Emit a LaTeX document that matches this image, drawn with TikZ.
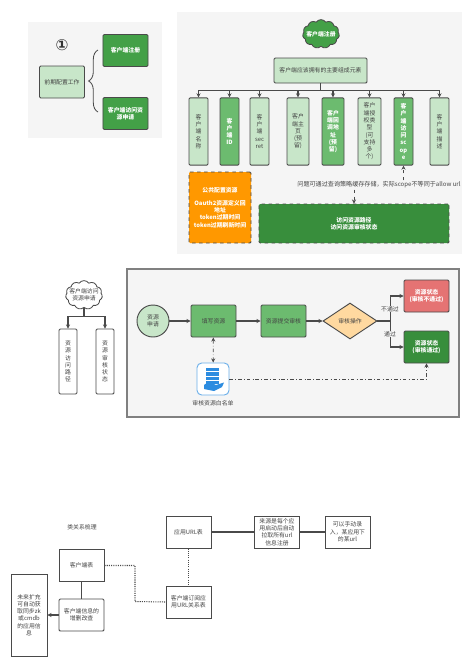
\documentclass[tikz,border=0pt]{standalone}
\usepackage{fontspec}
\setmainfont{Noto Sans CJK SC}
\newfontfamily\symfont{DejaVu Sans}
\usepackage{xcolor}
\usetikzlibrary{shapes.geometric, shapes.symbols, arrows.meta, positioning, calc,
                 decorations.pathreplacing}
\definecolor{panelgray}{HTML}{F5F5F5}
\definecolor{edgegray}{HTML}{4A4A4A}
\definecolor{palegreen}{HTML}{C8E6C9}
\definecolor{midgreen}{HTML}{6CBB6F}
\definecolor{regreen}{HTML}{43A047}
\definecolor{deepgreen}{HTML}{388E3C}
\definecolor{cfgorange}{HTML}{FF9800}
\definecolor{failred}{HTML}{E57373}
\definecolor{auditorange}{HTML}{FFD9A0}
\definecolor{iconblue}{HTML}{2C8CE0}
\definecolor{txtgray}{HTML}{444444}
\newcommand{\smalltxt}{\fontsize{5}{6.2}\selectfont}

\begin{document}
\begin{tikzpicture}[
    x=0.03cm, y=-0.03cm,
    every node/.style={font=\smalltxt, align=center, text=txtgray},
    panel/.style={rectangle, fill=panelgray, inner sep=0pt},
    card/.style={rectangle, draw=edgegray, fill=#1, line width=0.8pt, rounded corners=1pt,
                 inner sep=0pt, minimum width=1.35cm, minimum height=0.96cm},
    card/.default=white,
    wcard/.style={card=#1, text=white, font=\smalltxt\bfseries},
    pillar/.style={card=#1, minimum height=2.02cm},
    plainbox/.style={rectangle, draw=edgegray, fill=white, line width=0.8pt, inner sep=0pt,
                 minimum width=1.35cm, minimum height=0.96cm},
    cloudbox/.style={cloud, cloud puffs=11, cloud puff arc=110, aspect=1.25, draw=edgegray,
                 fill=#1, line width=0.7pt, inner xsep=-3pt, inner ysep=-1.5pt, minimum width=1.1cm, minimum height=0.84cm},
    arrow/.style={-{Stealth[length=3.5pt,width=3.5pt]}, line width=0.9pt, draw=edgegray},
    plainline/.style={line width=1pt, draw=edgegray},
    dashline/.style={-{Stealth[length=3.5pt,width=3.5pt]}, dash dot, line width=0.7pt, draw=edgegray},
    dotline/.style={densely dotted, line width=0.9pt, draw=edgegray}
]
\useasboundingbox (0,0) rectangle (474,667);

% Panel backgrounds
\node[panel, minimum width=4.02cm, minimum height=3.48cm] at (95,80) (panel-a) {};
\node[panel, minimum width=8.55cm, minimum height=7.26cm] at (319.5,133) (panel-b) {};
\node[panel, draw=gray, line width=0.9pt, minimum width=9.96cm, minimum height=4.44cm] at (293,343) (panel-c) {};

% Preparation
\node[font=\symfont\bfseries\fontsize{13}{13}\selectfont, text=black!80] at (62,45) (mark) {①};
\node[card=palegreen, minimum height=0.96cm] at (62,82) (prep) {前期配置工作};
\node[wcard=regreen] at (125.5,50.5) (reg) {客户端注册};
\node[wcard=regreen] at (125.5,113.5) (apply) {客户端访问资\\源申请};
\coordinate (brace-top) at (98,50);
\coordinate (brace-bot) at (98,112);
\draw[edgegray, line width=0.7pt, decorate, decoration={brace, amplitude=8pt, mirror}]
    (brace-top) -- (brace-bot);

% Client registration
\node[cloudbox=regreen, text=white, font=\smalltxt\bfseries] at (321,34) (reg-cloud) {客户端注册};
\node[card=palegreen, minimum width=2.79cm, minimum height=0.75cm] at (320.5,70.5) (elements) {客户端应该拥有的主要组成元素};
\node[pillar=palegreen, minimum width=0.57cm] at (198.5,131.5) (col-a) {客\\户\\端\\名\\称};
\node[pillar=midgreen, minimum width=0.57cm, text=white, font=\smalltxt\bfseries] at (229.5,131.5) (col-b) {客\\户\\端\\ID};
\node[pillar=palegreen, minimum width=0.57cm] at (259.5,131.5) (col-c) {客\\户\\端\\sec\\ret};
\node[pillar=palegreen, minimum width=0.66cm] at (298,131.5) (col-d) {客户\\端主\\页\\(预\\留)};
\node[pillar=midgreen, minimum width=0.66cm, text=white, font=\smalltxt\bfseries] at (333,131.5) (col-e) {客户\\端回\\调地\\址\\(预\\留)};
\node[pillar=palegreen, minimum width=0.69cm] at (369.5,131.5) (col-f) {客户\\端授\\权类\\型\\(可\\支持\\多\\个)};
\node[pillar=midgreen, minimum width=0.57cm, text=white, font=\smalltxt\bfseries] at (403.5,131.5) (col-g) {客\\户\\端\\访\\问\\sc\\op\\e};
\node[pillar=palegreen, minimum width=0.57cm] at (439.5,131.5) (col-h) {客\\户\\端\\描\\述};

\draw[arrow] (elements.south) -- ++(0,7) -| (col-a.north);
\draw[arrow] (elements.south) -- ++(0,7) -| (col-b.north);
\draw[arrow] (elements.south) -- ++(0,7) -| (col-c.north);
\draw[arrow] (elements.south) -- ++(0,7) -| (col-d.north);
\draw[arrow] (elements.south) -- ++(0,7) -| (col-e.north);
\draw[arrow] (elements.south) -- ++(0,7) -| (col-f.north);
\draw[arrow] (elements.south) -- ++(0,7) -| (col-g.north);
\draw[arrow] (elements.south) -- ++(0,7) -| (col-h.north);

\node[card=cfgorange, dashed, text=white, font=\smalltxt\bfseries, minimum width=1.86cm, minimum height=2.13cm] at (220,207.5) (cfg) {公共配置资源\\[5pt]Oauth2资源定义回\\地址\\token过期时间\\token过期刷新时间};
\node[card=deepgreen, dashed, text=white, font=\smalltxt\bfseries, minimum width=5.7cm, minimum height=1.17cm] at (354,223.5) (res-path) {访问资源路径\\访问资源审核状态};
\node[inner sep=1pt, font=\fontsize{5.2}{6.2}\selectfont] at (379,185) (note) {问题可通过查询策略缓存存储，实际scope不等同于allow url};
\draw[-{Stealth[length=3.5pt,width=3.5pt]}, dashed, line width=0.7pt, draw=edgegray] (note.north -| col-g) -- (col-g);
\draw[-{Stealth[length=3.5pt,width=3.5pt]}, dashed, line width=0.7pt, draw=edgegray] (note.south -| res-path) -- (res-path);

% Access request
\node[cloudbox=white] at (84,295) (req-cloud) {客户端访问\\资源申请};
\node[pillar=white, minimum width=0.54cm, minimum height=1.95cm] at (68,361.5) (path-col) {资\\源\\访\\问\\路\\径};
\node[pillar=white, minimum width=0.54cm, minimum height=1.95cm] at (105,361.5) (state-col) {资\\源\\审\\核\\状\\态};
\draw[arrow] (req-cloud.south) -- ++(0,9) -| (path-col.north);
\draw[arrow] (req-cloud.south) -- ++(0,9) -| (state-col.north);

% Resource flow
\node[circle, draw=edgegray, fill=palegreen, line width=0.8pt, minimum size=0.96cm, inner sep=0pt] at (153,321) (res-apply) {资源\\申请};
\node[card=midgreen] at (213.5,321) (res-fill) {填写资源};
\node[card=midgreen] at (283.5,321) (res-submit) {资源提交审核};
\node[diamond, draw=edgegray, fill=auditorange, line width=0.8pt, inner sep=0pt, minimum width=1.62cm, minimum height=1.08cm] at (350,321) (audit) {审核操作};
\node[wcard=failred] at (426.5,296) (res-fail) {资源状态\\(审核不通过)};
\node[wcard=deepgreen] at (426.5,347) (res-pass) {资源状态\\(审核通过)};
\node[rectangle, draw=iconblue!70, fill=white, line width=0.8pt, rounded corners=4pt, inner sep=0pt, minimum size=0.96cm] at (213,379) (wl-icon) {};
\node at (213,403) (wl-label) {审核资源白名单};

% whitelist icon
\fill[iconblue] (206,367.5) rectangle (219,371);
\fill[iconblue] (206,372) rectangle (219,375.5);
\fill[iconblue] (206,376.5) rectangle (219,380);
\fill[iconblue] (206,381) rectangle (219,384);
\fill[iconblue] (204,385) -- (209,381.5) -- (216,385) -- (224,382.5) -- (222,387) -- (214,391) -- (204,389) -- cycle;

\draw[arrow] (res-apply) -- (res-fill);
\draw[arrow] (res-fill) -- (res-submit);
\draw[arrow] (res-submit) -- (audit);
\draw[arrow] (audit.east) -- ++(13,0) |- (res-fail.west);
\draw[arrow] (audit.east) -- ++(13,0) |- (res-pass.west);
\draw[dashline, {Stealth[length=3.5pt,width=3.5pt]}-{Stealth[length=3.5pt,width=3.5pt]}] (res-fill) -- (wl-icon);
\draw[dashline] (wl-icon.east) -| (res-pass.south);
\node[fill=panelgray, inner sep=0.5pt] at (390,309) (no-label) {不通过};
\node[fill=panelgray, inner sep=0.5pt] at (390,334) (yes-label) {通过};

% Class relations
\node at (82,527) (rel-title) {类关系梳理};
\node[plainbox] at (81.5,565.5) (client-tb) {客户端表};
\node[plainbox, rounded corners=1pt] at (81.5,615) (client-crud) {客户端信息的\\增删改查};
\node[plainbox, minimum width=1.08cm, minimum height=2.46cm] at (29,615) (future) {未来扩充\\可自动获\\取同步zk\\或cmdb\\的应用信\\息};
\node[plainbox] at (188.5,532) (url-tb) {应用URL表};
\node[plainbox] at (188.5,602) (sub-tb) {客户端订阅应\\用URL关系表};
\node[plainbox] at (277,532) (url-src) {来源是每个应\\用启动后自动\\拉取所有url\\信息注册};
\node[plainbox] at (347.5,532) (url-manual) {可以手动录\\入，某应用下\\的某url};

\draw[plainline] (client-tb) -- (client-crud);
\draw[arrow] (client-crud) -- (future);
\draw[plainline] (url-tb) -- (url-src);
\draw[plainline] (url-src) -- (url-manual);
\draw[dotline] (url-tb) -- (sub-tb);
\draw[dotline] (client-tb.east) -- (135,565.5) -- (135,601.5) -- (sub-tb.west);

\end{tikzpicture}
\end{document}
